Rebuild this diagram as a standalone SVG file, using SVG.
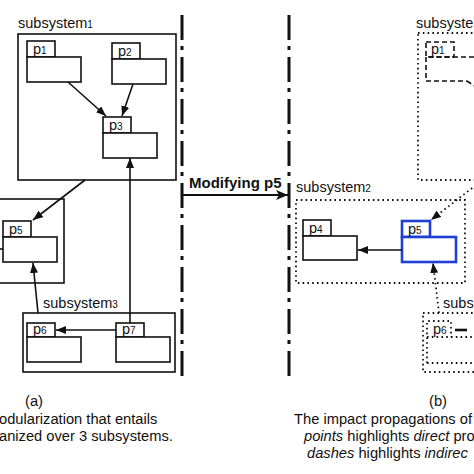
<svg xmlns="http://www.w3.org/2000/svg" width="474" height="474" viewBox="0 0 474 474">
<defs>
<style>
text{font-family:"Liberation Sans",Arial,sans-serif;fill:#111}
.lbl{font-size:14.5px}
.sub{font-size:10px}
.pl{font-size:14.5px}
.box{fill:#fff;stroke:#111;stroke-width:1.6}
.ss{fill:none;stroke:#111;stroke-width:1.6}
.dot{fill:none;stroke:#111;stroke-width:1.8;stroke-dasharray:1.6 3.2}
.dash{fill:none;stroke:#111;stroke-width:1.6;stroke-dasharray:5 3}
.blue{fill:#fff;stroke:#1f3fd6;stroke-width:2.6}
.con{fill:none;stroke:#111;stroke-width:1.6}
.dcon{fill:none;stroke:#111;stroke-width:1.8;stroke-dasharray:1.6 3.2}
.sep{fill:none;stroke:#111;stroke-width:3;stroke-dasharray:25 6 4 7}
.cap{font-size:14.7px}
</style>
<marker id="ah" viewBox="0 0 10 8" refX="10" refY="4" markerWidth="10" markerHeight="8" markerUnits="userSpaceOnUse" orient="auto">
<path d="M0,0 L10,4 L0,8 z" fill="#111"/>
</marker>
<marker id="st" viewBox="0 0 12 10" refX="12" refY="5" markerWidth="12" markerHeight="10" markerUnits="userSpaceOnUse" orient="auto">
<path d="M0,0 L12,5 L0,10 L3,5 z" fill="#111"/>
</marker>
</defs>
<rect x="0" y="0" width="474" height="474" fill="#fff"/>

<!-- separators -->
<g id="separators">
<line class="sep" x1="182" y1="15" x2="182" y2="377"/>
<line class="sep" x1="289" y1="15" x2="289" y2="377"/>
</g>

<!-- (a) subsystems -->
<g id="a-subsystem1">
<rect class="ss" x="18" y="34" width="158" height="146"/>
<text class="lbl" x="18" y="28">subsystem<tspan class="sub">1</tspan></text>
</g>
<g id="a-subsystem2">
<rect class="ss" x="-10" y="199" width="74" height="84"/>
</g>
<g id="a-subsystem3">
<rect class="ss" x="23" y="313" width="152" height="59"/>
<text class="lbl" x="43" y="308">subsystem<tspan class="sub">3</tspan></text>
</g>

<!-- (a) packages -->
<g id="a-p1">
<rect class="box" x="27" y="41" width="28" height="16"/>
<rect class="box" x="27" y="57" width="54" height="25"/>
<text class="pl" x="33" y="53.5">p<tspan class="sub">1</tspan></text>
</g>
<g id="a-p2">
<rect class="box" x="112" y="43" width="28" height="16"/>
<rect class="box" x="112" y="59" width="54" height="25"/>
<text class="pl" x="118" y="55.5">p<tspan class="sub">2</tspan></text>
</g>
<g id="a-p3">
<rect class="box" x="103" y="117" width="28" height="16"/>
<rect class="box" x="103" y="133" width="54" height="25"/>
<text class="pl" x="109" y="129.5">p<tspan class="sub">3</tspan></text>
</g>
<g id="a-p5">
<rect class="box" x="3" y="221" width="28" height="16"/>
<rect class="box" x="3" y="237" width="54" height="25"/>
<text class="pl" x="9" y="233.5">p<tspan class="sub">5</tspan></text>
</g>
<g id="a-p6">
<rect class="box" x="27" y="323" width="28" height="14"/>
<rect class="box" x="27" y="337" width="54" height="25"/>
<text class="pl" x="33" y="334">p<tspan class="sub">6</tspan></text>
</g>
<g id="a-p7">
<rect class="box" x="116" y="323" width="28" height="14"/>
<rect class="box" x="116" y="337" width="54" height="25"/>
<text class="pl" x="122" y="334">p<tspan class="sub">7</tspan></text>
</g>

<!-- (b) subsystems -->
<g id="b-subsystem1">
<rect class="dot" x="418" y="33" width="80" height="147"/>
<text class="lbl" x="416" y="28">subsyste</text>
</g>
<g id="b-subsystem2">
<rect class="dot" x="296" y="200" width="169" height="83"/>
<text class="lbl" x="296" y="192">subsystem<tspan class="sub">2</tspan></text>
</g>
<g id="b-subsystem3">
<rect class="dot" x="423" y="313" width="80" height="59"/>
<text class="lbl" x="443" y="308">subs</text>
</g>

<!-- (b) packages -->
<g id="b-p1">
<rect class="dash" x="426" y="42" width="28" height="15"/>
<path class="dash" d="M490,57 L426,57 L426,81 L467,81"/>
<text class="pl" x="431" y="54">p<tspan class="sub">1</tspan></text>
</g>
<g id="b-p4">
<rect class="box" x="303" y="220" width="28" height="16"/>
<rect class="box" x="303" y="236" width="54" height="24"/>
<text class="pl" x="309" y="232.5">p<tspan class="sub">4</tspan></text>
</g>
<g id="b-p5">
<rect class="blue" x="402" y="221" width="28" height="16"/>
<rect class="blue" x="402" y="237" width="54" height="25"/>
<text class="pl" x="408" y="233.5">p<tspan class="sub">5</tspan></text>
</g>
<g id="b-p6">
<path class="dot" d="M427,363 L427,321 L451,321 L451,337"/>
<path class="dot" d="M427,337 L490,337"/>
<path class="dot" d="M427,363 L490,363"/>
<text class="pl" x="433" y="334">p<tspan class="sub">6</tspan></text>
</g>

<!-- connectors -->
<g id="connectors">
<line class="con" x1="68" y1="82" x2="106" y2="116" marker-end="url(#ah)"/>
<line class="con" x1="133" y1="84" x2="122" y2="116" marker-end="url(#ah)"/>
<line class="con" x1="130" y1="323" x2="130" y2="158" marker-end="url(#ah)"/>
<line class="con" x1="85" y1="180" x2="33" y2="220" marker-end="url(#ah)"/>
<line class="con" x1="38" y1="313" x2="33" y2="263" marker-end="url(#ah)"/>
<line class="con" x1="116" y1="330" x2="56" y2="330" marker-end="url(#ah)"/>
<line class="con" x1="3" y1="249" x2="-10" y2="249"/>
<line x1="182" y1="195" x2="288" y2="195" stroke="#111" stroke-width="2" marker-end="url(#st)"/>
<text x="189" y="188" font-size="15" font-weight="bold">Modifying p5</text>
<line class="con" x1="402" y1="250" x2="358" y2="250" marker-end="url(#ah)"/>
<line class="dcon" x1="476" y1="185" x2="431" y2="220" marker-end="url(#ah)"/>
<line class="dcon" x1="439" y1="313" x2="433" y2="263" marker-end="url(#ah)"/>
<line class="dash" x1="467" y1="81" x2="476" y2="87"/>
<line x1="455" y1="330" x2="467" y2="330" stroke="#111" stroke-width="2.6"/>
</g>

<!-- captions -->
<g id="captions">
<text class="cap" x="34" y="406" text-anchor="middle">(a)</text>
<text class="cap" x="-1" y="424">odularization that entails</text>
<text class="cap" x="-1" y="441">anized over 3 subsystems.</text>
<text class="cap" x="438" y="406" text-anchor="middle">(b)</text>
<text class="cap" x="294" y="424">The impact propagations of</text>
<text class="cap" x="304" y="441"><tspan font-style="italic">points</tspan> highlights <tspan font-style="italic">direct</tspan> pro</text>
<text class="cap" x="307" y="458"><tspan font-style="italic">dashes</tspan> highlights <tspan font-style="italic">indirec</tspan></text>
</g>
</svg>
